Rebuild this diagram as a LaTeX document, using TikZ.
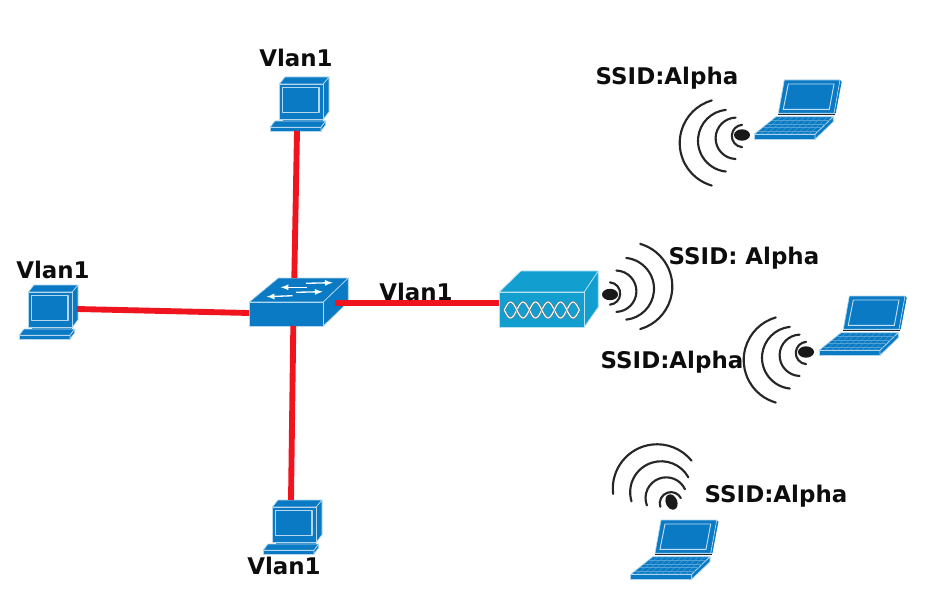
\documentclass[tikz,border=0pt]{standalone}
\usepackage{fontspec}
\setmainfont{DejaVu Sans}
\usepackage{xcolor}
\usetikzlibrary{calc}
\definecolor{devblue}{HTML}{0A7AC4}
\definecolor{apblue}{HTML}{129FD0}
\definecolor{vlanred}{HTML}{F0141E}
\tikzset{
  x=.75pt, y=-.75pt,
  vlan/.style={vlanred, line width=4.4pt},
  lbl/.style={font=\fontsize{17.2}{20}\selectfont\bfseries, text=black!95, inner sep=0pt},
  face/.style={fill=devblue, draw=white!70!devblue, line width=.5pt, line join=round},
  apface/.style={fill=apblue, draw=white!70!apblue, line width=.5pt, line join=round},
  wave/.style={black!85, line width=1.6pt, line cap=round},
  pics/pc/.style={code={
    \draw[face] (9.3,7) -- (15,0) -- (59,0) -- (53.3,7) -- cycle;
    \draw[face] (53.3,7) -- (59,0) -- (59,34.7) -- (53.3,42.3) -- cycle;
    \fill[devblue] (13,42) rectangle (53,44.5);
    \draw[face] (9.3,7) rectangle (53.3,42.3);
    \draw[face, line width=.8pt] (12.3,10.3) rectangle (49,35.7);
    \draw[face] (0,50.3) -- (5,44) -- (55.7,44) -- (51,50.3) -- cycle;
    \draw[face] (0,50.3) rectangle (51,54);
    \draw[face] (51,50.3) -- (55.7,44) -- (55.7,47.7) -- (51,54) -- cycle;
    \coordinate (-n) at (28,0);
    \coordinate (-s) at (27,54);
    \coordinate (-e) at (58,24);
  }},
  pics/laptop/.style={code={
    \fill[devblue] (86,0) -- (87.7,1.7) -- (81.7,33.3) -- (80,33.3) -- cycle;
    \draw[face] (24.3,33.3) -- (30.3,0) -- (86,0) -- (80,33.3) -- cycle;
    \draw[white!75!devblue, line width=.7pt] (29.3,29.3) -- (34.3,4) -- (80,4) -- (75.3,29.3) -- cycle;
    \draw[black!85, line width=1pt] (24.3,34.2) -- (81,34.2);
    \draw[face] (0,54.3) -- (22,36.7) -- (79.3,36.7) -- (61,54.3) -- cycle;
    \draw[face] (0,54.3) rectangle (61,59.3);
    \draw[face] (61,54.3) -- (79.3,36.7) -- (79.3,41.7) -- (61,59.3) -- cycle;
    % keys
    \foreach \t in {.2,.4,.6,.8}
      \draw[white!30!devblue, line width=.25pt] ($(0,54.3)!\t!(22,36.7)$) -- ($(61,54.3)!\t!(79.3,36.7)$);
    \foreach \t in {.1,.2,...,.9}
      \draw[white!30!devblue, line width=.25pt] ($(0,54.3)!\t!(61,54.3)$) -- ($(22,36.7)!\t!(79.3,36.7)$);
  }},
  pics/wifi/.style={code={
    \fill[black!90] (0,0) ellipse[x radius=8, y radius=5.7];
    \foreach \ox/\oy/\r/\a in {1/1/11.2/85, -5.7/3.3/20.7/88, -13/5.7/31/84, -18/8/44.3/74}
      \draw[wave] ({\ox+\r*cos(180-\a)},{\oy+\r*sin(180-\a)}) arc[start angle=180-\a, end angle=180+\a, radius=\r];
  }},
  pics/switch/.style={code={
    \draw[face] (0,24) -- (29,0) -- (99,0) -- (74,24) -- cycle;
    \draw[face] (74,24) -- (99,0) -- (99,24) -- (74,48) -- cycle;
    \draw[face] (0,24) rectangle (74,48);
    % arrows on the top
    \draw[white, line width=1pt, -latex] (57.4,9.3) -- (31.4,9.3);
    \draw[white, line width=1pt, -latex] (56.7,5.3) -- (83.4,4.7);
    \draw[white, line width=1pt, -latex] (43.4,17.7) -- (17.4,18.7);
    \draw[white, line width=1pt, -latex] (46.7,14.3) -- (73.4,13.7);
    \coordinate (-n) at (45,0);
    \coordinate (-w) at (0,35);
    \coordinate (-s) at (44,48);
    \coordinate (-e) at (86,25);
  }},
  pics/ap/.style={code={
    \draw[apface] (0,21) -- (21.5,0) -- (99,0) -- (85,21) -- cycle;
    \draw[apface] (85,21) -- (99,0) -- (99,36) -- (85,56) -- cycle;
    \draw[apface] (0,21) rectangle (85,56);
    % helix
    \foreach \s in {1,-1} {
      \draw[black!55, line width=1.5pt] plot[smooth, domain=0:6, samples=61] ({5+12.5*\x},{39+\s*8*sin(180*\x)});
      \draw[white, line width=.8pt] plot[smooth, domain=0:6, samples=61] ({5+12.5*\x},{39+\s*8*sin(180*\x)});
    }
    \coordinate (-w) at (0,32);
  }},
}
\begin{document}
\begin{tikzpicture}
  \useasboundingbox (0,0) rectangle (937,609);
% wired side
  \pic (pcT) at (270,77) {pc};
  \pic (pcL) at (19,285) {pc};
  \pic (pcB) at (263,500) {pc};
  \pic (sw) at (249.3,278) {switch};
  \pic (ap) at (499.3,271) {ap};
% wireless side
  \pic (lapA) at (754,80) {laptop};
  \pic (lapB) at (819,296) {laptop};
  \pic (lapC) at (630.7,520) {laptop};
  \pic at (742,135) {wifi};
  \pic at (806,352) {wifi};
  \pic[rotate=180] at (610,294.5) {wifi};
  \pic[rotate=-67] at (671.5,502) {wifi};
% links
  \draw[vlan] (pcT-s) -- (sw-n);
  \draw[vlan] (pcL-e) -- (sw-w);
  \draw[vlan] (pcB-n) -- (sw-s);
  \draw[vlan] (sw-e) -- (ap-w);
% labels
  \node[lbl] (vlanT) at (296,58) {Vlan1};
  \node[lbl] (vlanL) at (53,270) {Vlan1};
  \node[lbl] (vlanM) at (416,292) {Vlan1};
  \node[lbl] (vlanB) at (284,566) {Vlan1};
  \node[lbl] (ssidA) at (667,78.5) {SSID:Alpha};
  \node[lbl] (ssidAp) at (744,258.5) {SSID: Alpha};
  \node[lbl] (ssidB) at (672,362) {SSID:Alpha};
  \node[lbl] (ssidC) at (776,496.5) {SSID:Alpha};
\end{tikzpicture}
\end{document}
